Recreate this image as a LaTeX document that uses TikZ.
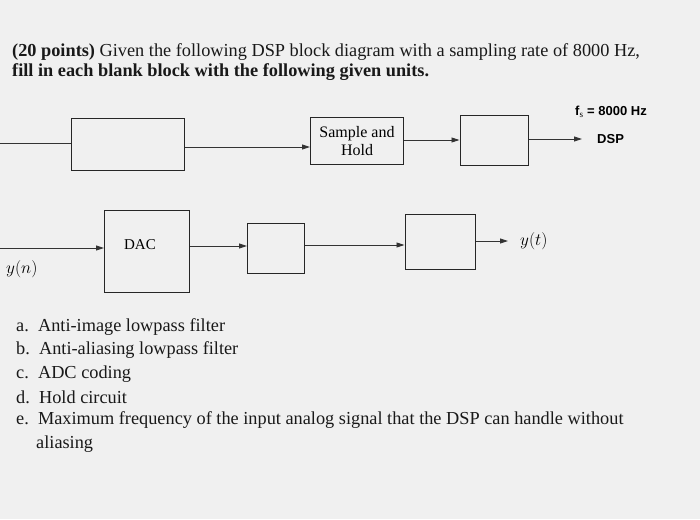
\documentclass[tikz,border=0pt]{standalone}
\usepackage{fontspec}
\setmainfont{Liberation Serif}
\newfontfamily\sansf{Liberation Sans}
\usetikzlibrary{arrows.meta}
\begin{document}
\begin{tikzpicture}[x=1pt,y=-1pt,
  blk/.style={draw=black!85,line width=1pt,minimum width=#1,inner sep=0pt},
  conn/.style={draw=black!80,line width=0.9pt,-{Triangle[length=8pt,width=5pt]}},
  txt/.style={anchor=west,inner sep=0pt,font=\fontsize{18.3}{20}\selectfont,text=black!90}]
\useasboundingbox[fill=gray!12] (0,0) rectangle (700,519);
\node[txt] (t1) at (12,52) {\textbf{(20 points)} Given the following DSP block diagram with a sampling rate of 8000 Hz,};
\node[txt] (t2) at (12,72) {\textbf{fill in each blank block with the following given units.}};
% row 1
\coordinate (in1) at (0,143);
\node[blk=113pt,minimum height=52pt] (b1) at (128,144) {};
\node[blk=93pt,minimum height=47pt,align=center,font=\fontsize{16}{18}\selectfont] (sh) at (357,141) {Sample and\\Hold};
\node[blk=68pt,minimum height=50pt] (b3) at (494,140) {};
\node[anchor=west,inner sep=0pt,font=\sansf\bfseries\fontsize{13}{15}\selectfont] (dsp) at (597,139) {DSP};
\node[anchor=west,inner sep=0pt,font=\sansf\bfseries\fontsize{13}{15}\selectfont] (fs) at (575,112) {f$_{\mathrm{s}}$ = 8000 Hz};
\coordinate (dspin) at (582,139);
\draw[draw=black!80,line width=0.9pt] (in1) -- (b1.west |- in1);
\draw[conn] (b1.east |- 0,147) -- (sh.west |- 0,147);
\draw[conn] (sh.east |- 0,140) -- (b3.west |- 0,140);
\draw[conn] (b3.east |- dspin) -- (dspin);
% row 2
\coordinate (in2) at (0,248);
\node[blk=85pt,minimum height=82pt] (dac) at (147,251) {};
\node[font=\fontsize{15}{17}\selectfont] (dact) at (140,245) {DAC};
\node[blk=57pt,minimum height=50pt] (b5) at (276,248) {};
\node[blk=70pt,minimum height=55pt] (b6) at (440,242) {};
\node[anchor=west,inner sep=0pt,font=\fontsize{16}{18}\selectfont] (yt) at (520,241) {$y(t)$};
\coordinate (ytin) at (508,241);
\node[anchor=west,inner sep=0pt,font=\fontsize{16}{18}\selectfont] (yn) at (6,269) {$y(n)$};
\draw[conn] (in2) -- (dac.west |- in2);
\draw[conn] (dac.east |- 0,246) -- (b5.west |- 0,246);
\draw[conn] (b5.east |- 0,245) -- (b6.west |- 0,245);
\draw[conn] (b6.east |- ytin) -- (ytin);
% list
\node[txt] (la) at (16,327) {a.\ \ Anti-image lowpass filter};
\node[txt] (lb) at (16,350) {b.\ \ Anti-aliasing lowpass filter};
\node[txt] (lc) at (16,374) {c.\ \ ADC coding};
\node[txt] (ld) at (16,397) {d.\ \ Hold circuit};
\node[txt] (le) at (16,420) {e.\ \ Maximum frequency of the input analog signal that the DSP can handle without};
\node[txt] (lf) at (36,444) {aliasing};
\end{tikzpicture}
\end{document}
